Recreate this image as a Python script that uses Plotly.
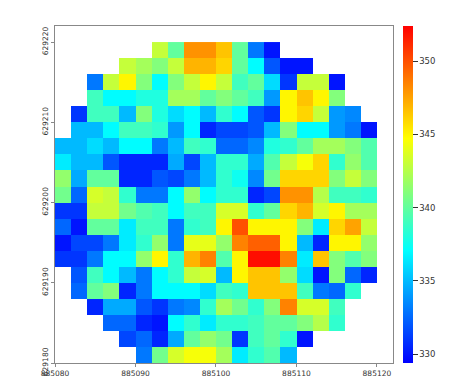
import plotly.graph_objects as go

N = None
x_centers = [885081 + 2 * i for i in range(20)]
y_centers_top_down = [629219 - 2 * i for i in range(20)]

rows_top_down = [
    [N,N,N,N,N,N,343,340,348,348,346.5,340,333,330,N,N,N,N,N,N],
    [N,N,N,N,343,342,341,343,347,347,346,340,337,332,330,330,N,N,N,N],
    [N,N,333,343,345,341,337,341,343,345,343,339,340,336,331,343,343,330,N,N],
    [N,N,339,337,337,338,338,342,342,340,341,340,339,334,345,346.5,345,341,N,N],
    [N,331,339,339,335,341,338,336,337,335,338.5,337,332,331,345,346,343,334,333.5,N],
    [N,335,335,337,339,339,338.5,334,337,330.5,331.5,331.5,332,335,341,337,337,334,333,330],
    [335,335,336,335,337,337,333,335,339,338.5,332.5,332.5,333.5,338,338.5,340,342,342,341,339.5],
    [336.5,335,335,332,330.5,330.5,330.5,334.5,331.5,335,338.5,338.5,334.5,339.5,343,344.5,346,338.5,341.5,339.5],
    [341.5,334.5,340,340,330.5,330.5,332,331.5,333,335,338.5,337.5,333.5,340.5,346,346,346,341,343,341],
    [340.5,332.5,343.5,343,338.5,333,333,337,341.5,337,338.5,338.5,330.5,331.5,348,348,342.5,339,339,338.5],
    [331,331,343,343,340.5,339.5,339,337,339,339,343.5,343.5,338.5,340,346,347,343.5,345,342,342],
    [332.5,330,340,340,336.5,339,339,333,338.5,339,345,350,345,345,345,341,336.5,346,347.5,343],
    [330,331.5,331.5,333,336.5,338.5,341.5,333,344,344,341.5,348.5,349.5,349.5,345,335,330.5,345,345,341.5],
    [331,331,333,337,337,341.5,345,338.5,347,348.5,339.5,345,352,352,348.5,336.5,346.5,341,339.5,341],
    [N,332,339,337,335,333,337,338.5,343,343.5,335,345,346.5,346.5,341.5,336,330,341,332.5,330.5],
    [N,332.5,340,341,330.5,333,337,337,337,336,339,338.5,346.5,346.5,346.5,339,333,332.5,338.5,N],
    [N,N,330.5,334.5,334.5,332,331,333,333.5,338.5,342,340.5,338.5,341,348.5,343.5,343.5,339,N,N],
    [N,N,N,332.5,332.5,330.5,330,337,338.5,336.5,338.5,338.5,339,340,340,341,342.5,338.5,N,N],
    [N,N,N,N,331.5,332.5,330.5,334.5,340,341.5,340.5,331,339,340,338.5,330,N,N,N,N],
    [N,N,N,N,N,333,340.5,343.5,344.5,344.5,342,336.5,338.5,339.5,335,N,N,N,N,N],
]

x_ticks = [885080, 885090, 885100, 885110, 885120]
y_ticks = [629180, 629190, 629200, 629210, 629220]
cbar_ticks = [330, 335, 340, 345, 350]

colorscale = [[0, "rgb(0,0,255)"], [1/3, "rgb(0,255,255)"],
              [2/3, "rgb(255,255,0)"], [1, "rgb(255,0,0)"]]

fig = go.Figure(go.Heatmap(
    x=x_centers,
    y=y_centers_top_down,
    z=rows_top_down,
    colorscale=colorscale,
    zmin=329.4, zmax=352.4,
    hoverongaps=False,
    colorbar=dict(
        x=1.0296, xanchor="left", xref="paper", xpad=0,
        y=0.5, yanchor="middle", len=1.0, lenmode="fraction", ypad=0,
        thickness=10, thicknessmode="pixels",
        outlinewidth=0,
        tickvals=cbar_ticks,
        ticks="outside", ticklen=5, tickcolor="#333",
        tickfont=dict(family="DejaVu Sans", size=8.5, color="#333"),
    ),
))

axis_common = dict(
    showgrid=False, zeroline=False,
    showline=True, mirror=True, linecolor="#888", linewidth=1,
    ticks="outside", ticklen=3, tickcolor="#888",
    tickfont=dict(family="DejaVu Sans", size=7.5, color="#333"),
)

fig.update_layout(
    width=474, height=390,
    margin=dict(l=55, r=81, t=26, b=27),
    paper_bgcolor="white", plot_bgcolor="white",
    xaxis=dict(range=[885080, 885122], tickvals=x_ticks,
               ticktext=[str(v) for v in x_ticks], **axis_common),
    yaxis=dict(range=[629180, 629222], tickvals=y_ticks,
               ticktext=[str(v) for v in y_ticks], tickangle=-90,
               **axis_common),
)

fig.write_html("out.html", config={"displayModeBar": False},
               post_script="document.body.style.margin='0';")
